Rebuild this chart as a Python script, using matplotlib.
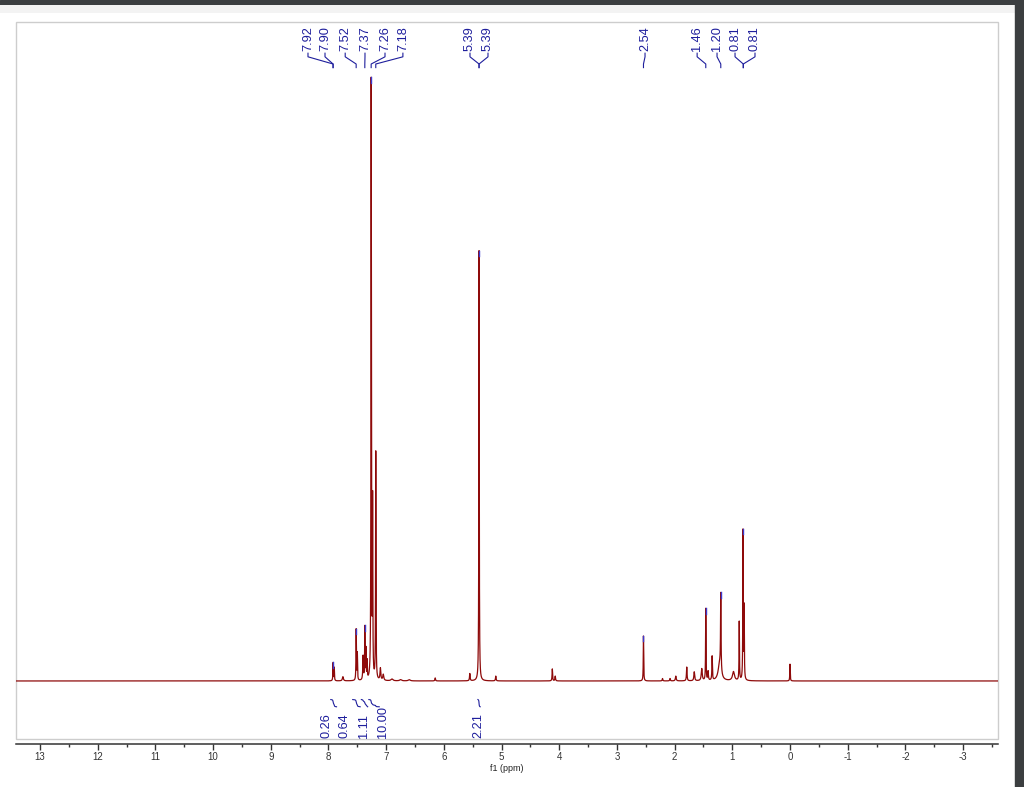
import numpy as np
import matplotlib.pyplot as plt
from matplotlib.patches import Rectangle

plt.rcParams['font.family'] = ['Liberation Sans', 'DejaVu Sans']
plt.rcParams['axes.unicode_minus'] = False

# peak list (ppm, relative height, half width in ppm)
peak_ppm = [7.92, 7.90, 7.75, 7.52, 7.50, 7.40, 7.37, 7.35, 7.33, 7.26, 7.235, 7.18,
            7.10, 7.05, 6.90, 6.75, 6.60, 6.15, 5.55, 5.39, 5.10, 4.12, 4.07,
            2.54, 2.21, 2.08, 1.98, 1.79, 1.66, 1.53, 1.46, 1.42, 1.35, 1.22, 1.20,
            0.98, 0.88, 0.815, 0.795, 0.0]
peak_height = [0.030, 0.022, 0.007, 0.085, 0.045, 0.040, 0.087, 0.050, 0.030, 1.000, 0.290, 0.380,
               0.020, 0.010, 0.003, 0.002, 0.002, 0.005, 0.012, 0.717, 0.008, 0.020, 0.008,
               0.075, 0.004, 0.004, 0.008, 0.023, 0.015, 0.020, 0.120, 0.015, 0.040, 0.028, 0.128,
               0.015, 0.098, 0.248, 0.120, 0.028]
peak_width = [0.004, 0.004, 0.010, 0.004, 0.004, 0.006, 0.004, 0.004, 0.004, 0.004, 0.004, 0.004,
              0.008, 0.010, 0.020, 0.020, 0.020, 0.006, 0.006, 0.004, 0.006, 0.005, 0.006,
              0.004, 0.006, 0.006, 0.008, 0.006, 0.008, 0.010, 0.004, 0.006, 0.005, 0.030, 0.005,
              0.020, 0.004, 0.004, 0.004, 0.004]

# picked peaks shown at the top
label_text = ['7.92', '7.90', '7.52', '7.37', '7.26', '7.18', '5.39', '5.39',
              '2.54', '1.46', '1.20', '0.81', '0.81']
label_peak = [7.92, 7.92, 7.52, 7.37, 7.26, 7.18, 5.39, 5.39, 2.54, 1.46, 1.20, 0.81, 0.81]
label_pos = [8.355, 8.06, 7.71, 7.367, 7.02, 6.71, 5.547, 5.235, 2.513, 1.61, 1.265, 0.953, 0.607]
mark_ppm = [7.92, 7.52, 7.37, 7.26, 5.39, 2.54, 1.46, 1.20, 0.815]

# integrals
int_text = ['0.26', '0.64', '1.11', '10.00', '2.21']
int_from = [7.96, 7.58, 7.43, 7.30, 5.41]
int_to = [7.86, 7.45, 7.32, 7.12, 5.37]
int_pos = [8.03, 7.72, 7.38, 7.05, 5.40]

blue = '#1e1e9c'
red = '#8e0a0a'

fig = plt.figure(figsize=(10.24, 7.87), dpi=100)

# page look (dark viewer border + frame)
bg = fig.add_axes([0, 0, 1, 1])
bg.set_xlim(0, 1024)
bg.set_ylim(787, 0)
bg.axis('off')
bg.add_patch(Rectangle((0, 0), 1024, 5, color='#3b3e40'))
bg.add_patch(Rectangle((0, 5), 1015, 8, color='#f3f3f3', lw=0))
bg.add_patch(Rectangle((1015, 0), 9, 787, color='#3b3e40'))
bg.add_patch(Rectangle((16, 22), 982, 717, fill=False, ec='#cdcdcd', lw=1))

ax = fig.add_axes([16 / 1024, 1 - 739 / 787, 982 / 1024, 717 / 787])
ax.patch.set_alpha(0)
ax.set_xlim(13.416, -3.605)
ax.set_ylim(-0.0967, 1.098)

x = np.linspace(13.416, -3.605, 40000)
y = np.zeros_like(x)
for p, h, w in zip(peak_ppm, peak_height, peak_width):
    y += h / (1 + ((x - p) / w) ** 2)
ax.plot(x, y, color=red, lw=0.9, zorder=3)

# peak pick marks
for p in mark_ppm:
    top = y[np.argmin(np.abs(x - p))]
    ax.plot([p, p], [top - 0.009, top], color='#3a3ad0', lw=1.0, zorder=4)

# top labels with connectors
for t, pk, lp in zip(label_text, label_peak, label_pos):
    ax.text(lp, 1.049, t, rotation=90, ha='center', va='bottom', fontsize=9.2, color=blue)
    ax.plot([lp, lp, pk, pk], [1.046, 1.040, 1.028, 1.022], color=blue, lw=0.8, clip_on=False)

# integral curves and values
for t, a, b, lp in zip(int_text, int_from, int_to, int_pos):
    sel = (x <= a) & (x >= b)
    c = np.cumsum(y[sel])
    c = (c - c[0]) / (c[-1] - c[0])
    ax.plot(x[sel], -0.031 - 0.012 * c, color=blue, lw=0.8)
    ax.text(lp, -0.095, t, rotation=90, ha='center', va='bottom', fontsize=9.2, color=blue)

for s in ['top', 'left', 'right']:
    ax.spines[s].set_visible(False)
ax.spines['bottom'].set_position(('outward', 3.6))
ax.spines['bottom'].set_color('#333333')
ax.spines['bottom'].set_linewidth(1.1)
ax.set_yticks([])
ax.set_xticks(np.arange(13, -4, -1))
ax.set_xticks(np.arange(12.5, -3.6, -1), minor=True)
ax.tick_params(axis='x', which='major', direction='out', length=4, width=1,
               colors='#333333', labelsize=7, pad=2)
ax.tick_params(axis='x', which='minor', direction='out', length=2.5, width=1, colors='#333333')
ax.set_xlabel('f1 (ppm)', fontsize=6.5, labelpad=1, color='#222222')

plt.savefig('out.png', dpi=100)
